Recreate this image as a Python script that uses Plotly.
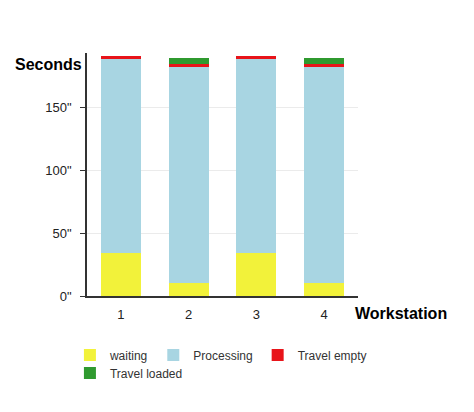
import plotly.graph_objects as go

# Time breakdown per workstation (seconds)
stations = ['1', '2', '3', '4']
waiting = [34, 10, 34, 10]
processing = [155, 172.5, 155, 172.5]
travel_empty = [1.5, 1.5, 1.5, 1.5]
travel_loaded = [0, 5, 0, 5]

y_ticks = [0, 50, 100, 150]
y_tick_text = ['%d"' % v for v in y_ticks]

# name, values, colour, legend (row)
series = [
	('waiting', waiting, '#f2f23a', 'legend'),
	('Processing', processing, '#a8d5e2', 'legend'),
	('Travel empty', travel_empty, '#e8141a', 'legend'),
	('Travel loaded', travel_loaded, '#2f9a2f', 'legend2'),
]

fig = go.Figure()
for name, vals, color, leg in series:
	fig.add_trace(go.Bar(x=stations, y=vals, name=name, legend=leg,
						 marker=dict(color=color, line=dict(width=0))))

leg_style = dict(orientation='h', xanchor='left', yanchor='top', font=dict(size=12, color='#333'),
				 traceorder='normal', itemwidth=30, bgcolor='rgba(0,0,0,0)')

fig.update_layout(
	barmode='stack',
	bargap=0.41,
	width=474, height=412,
	margin=dict(l=79, r=124, t=45, b=124),
	plot_bgcolor='white', paper_bgcolor='white',
	font=dict(family='Liberation Sans, Arial, sans-serif', size=13, color='#222'),
	showlegend=True,
	legend=dict(x=-0.063, y=-0.183, **leg_style),
	legend2=dict(x=-0.063, y=-0.257, **leg_style),
	annotations=[
		dict(text='<b>Seconds</b>', xref='paper', yref='paper', x=-0.0125, y=0.951,
			 xanchor='right', yanchor='middle', showarrow=False,
			 font=dict(size=16, color='black')),
		dict(text='<b>Workstation</b>', xref='paper', yref='paper', x=1.0, y=-0.07,
			 xanchor='left', yanchor='middle', showarrow=False, xshift=-5,
			 font=dict(size=16, color='black')),
	],
)
fig.update_yaxes(range=[0, 193], tickvals=y_ticks, ticktext=y_tick_text, showgrid=True, gridcolor='#ebebeb',
				 showline=True, linecolor='#333', linewidth=1.5, ticks='outside', ticklen=5,
				 tickcolor='#333', ticklabelstandoff=6, zeroline=False)
fig.update_xaxes(showline=True, linecolor='#333', linewidth=1.5, ticks='', ticklabelstandoff=6)

fig.write_html('out.html')
